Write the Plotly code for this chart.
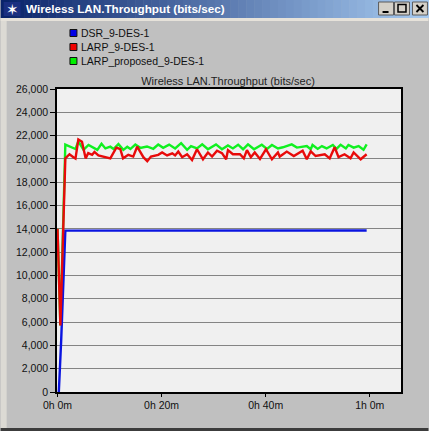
import plotly.graph_objects as go

# Values (time in minutes, throughput in bits/sec)
dsr_t = [0.25, 0.7, 1.5, 20.0, 43.0, 45.0, 59.4]
dsr_v = [0, 4400, 13850, 13850, 13850, 13880, 13860]

larp_t = [0, 0.55, 1.5, 2.3, 3.05, 3.45, 4.0, 4.7, 5.4, 5.9, 6.65, 7.1, 7.85, 9.2, 10.15,
          11.3, 12.05, 12.6, 13.6, 14.55, 15.3, 16.5, 17.25, 17.95, 19.35, 20.1, 21.05,
          22.05, 22.6, 23.2, 23.95, 24.9, 25.85, 26.8, 27.95, 28.9, 29.7, 30.65, 31.6,
          32.4, 32.75, 33.7, 35.05, 35.8, 36.4, 37.15, 37.9, 38.9, 40.05, 41.2, 42.35,
          42.7, 44.05, 45.4, 47.1, 47.9, 48.65, 49.6, 51.35, 52.3, 53.25, 54.0, 55.15,
          56.3, 56.9, 58.25, 59.4]
larp_v = [14000, 5700, 20050, 20400, 20150, 20030, 21670, 21480, 20050, 20500, 20350, 20600, 20300, 20150, 20050,
          20970, 20850, 20050, 20350, 20200, 21050, 20150, 19800, 20200, 20350, 20550, 20300,
          20480, 20300, 20630, 20150, 20400, 19900, 20830, 19970, 20550, 20200, 20700, 20500,
          19970, 20750, 20400, 20400, 20050, 20750, 20150, 20550, 20000, 20830, 19970, 20550,
          20200, 20630, 20250, 20700, 19970, 20650, 20250, 20400, 20050, 21000, 20150, 20400,
          20050, 20550, 19970, 20400]

proposed_t = [0, 0.55, 1.5, 2.5, 3.45, 4.0, 5.0, 5.95, 6.9, 7.65, 8.45, 9.2, 10.15, 10.75, 11.7,
              12.65, 13.4, 14.0, 14.95, 15.9, 17.2, 18.4, 19.35, 20.3, 21.45, 22.6, 23.75,
              24.9, 25.65, 26.8, 27.8, 28.9, 30.45, 31.6, 32.75, 33.7, 34.7, 35.65, 36.6,
              37.75, 39.25, 40.25, 41.2, 42.35, 43.3, 45.0, 46.0, 47.9, 48.65, 49.0, 50.0,
              50.8, 51.7, 52.9, 53.6, 54.4, 55.4, 55.9, 56.9, 57.85, 58.8, 59.4]
proposed_v = [14000, 5700, 21230, 21050, 20850, 21500, 20780, 21200, 21000, 20780, 21300, 20900, 21050, 20850, 21270,
              20780, 21050, 20850, 21230, 20950, 21070, 20870, 21230, 20950, 21230, 20900, 21350,
              20780, 21100, 20900, 21250, 20830, 21250, 20830, 21150, 20900, 21220, 20830, 21250,
              20830, 21220, 20860, 21200, 20900, 21000, 21250, 20970, 21100, 20830, 21200, 20860,
              21100, 20900, 21200, 20860, 21220, 20900, 21200, 20970, 21100, 20780, 21250]

x_tick_vals = [0, 20, 40, 60]
x_tick_text = ["0h 0m", "0h 20m", "0h 40m", "1h 0m"]
y_tick_vals = list(range(0, 26001, 2000))
legend_names = ["DSR_9-DES-1", "LARP_9-DES-1", "LARP_proposed_9-DES-1"]
legend_colors = ["#0000e6", "#f00000", "#00f000"]

W, H = 429, 431
PLOT_L, PLOT_R, PLOT_T, PLOT_B = 56.5, 401.5, 89, 392
FONT = "Liberation Sans"


# pixel position -> paper coordinates, for the window dressing
def px(x):
    return (x - PLOT_L) / (PLOT_R - PLOT_L)


def py(y):
    return (PLOT_B - y) / (PLOT_B - PLOT_T)


def rect(x0, y0, x1, y1, fill, line=None, width=1):
    return dict(type="rect", xref="paper", yref="paper",
                x0=px(x0), x1=px(x1), y0=py(y0), y1=py(y1),
                fillcolor=fill, line=dict(color=line, width=width if line else 0))


def seg(x0, y0, x1, y1, color, width=1.5):
    return dict(type="line", xref="paper", yref="paper",
                x0=px(x0), x1=px(x1), y0=py(y0), y1=py(y1),
                line=dict(color=color, width=width))


def label(x, y, text, size=10.5, color="#111111", anchor="left", bold=False):
    return dict(xref="paper", yref="paper", x=px(x), y=py(y), text=f"<b>{text}</b>" if bold else text,
                showarrow=False, xanchor=anchor, yanchor="middle",
                font=dict(family=FONT, size=size, color=color))


fig = go.Figure()
fig.add_trace(go.Scatter(x=proposed_t, y=proposed_v, mode="lines", line=dict(color="#10f020", width=2.4), name=legend_names[2]))
fig.add_trace(go.Scatter(x=dsr_t, y=dsr_v, mode="lines", line=dict(color="#0a14e0", width=2.4), name=legend_names[0]))
fig.add_trace(go.Scatter(x=larp_t, y=larp_v, mode="lines", line=dict(color="#e80a0a", width=2.4), name=legend_names[1]))

shapes = []
annotations = []

# Window chrome
shapes.append(rect(0, 18, 6, 428, "#dcdad4"))
shapes.append(rect(0, 428, W, H, "#3c3c3c"))
shapes.append(rect(0, 18, W, 21, "#e6e2da"))
c0, c1 = (10, 36, 106), (166, 202, 240)
steps = 54
for i in range(steps):
    f = i / (steps - 1)
    col = "rgb(%d,%d,%d)" % tuple(c0[k] + (c1[k] - c0[k]) * f for k in range(3))
    shapes.append(rect(W * i / steps, 0, W * (i + 1) / steps + 0.5, 18, col))
shapes.append(rect(3, 2, 20, 16, "#1a2f80"))
annotations.append(label(11.5, 9.5, "✶", size=15, color="white", anchor="center"))
annotations.append(label(23, 9, "Wireless LAN.Throughput (bits/sec)", size=11.7, color="white", bold=True))
for x0 in [379, 395, 413]:
    shapes.append(rect(x0, 2, x0 + 15, 15, "#d4d0c8", "#5a5a5a", 1))
shapes.append(seg(383, 12, 389, 12, "black", 2))
shapes.append(rect(398.5, 4.5, 406.5, 12, "rgba(0,0,0,0)", "black", 1.5))
shapes.append(seg(417, 5, 424, 12, "black", 1.8))
shapes.append(seg(424, 5, 417, 12, "black", 1.8))

# Legend
for i, name in enumerate(legend_names):
    y = 33 + 14 * i
    shapes.append(rect(69.5, y - 3.5, 76.5, y + 3.5, legend_colors[i], "#101010", 1))
    annotations.append(label(78.5, y, name, size=10.5))

fig.update_layout(
    width=W,
    height=H,
    margin=dict(l=PLOT_L, r=W - PLOT_R, t=PLOT_T, b=H - PLOT_B, pad=0),
    paper_bgcolor="#c0c0c0",
    plot_bgcolor="#f0f0f0",
    showlegend=False,
    font=dict(family=FONT, size=10.5, color="#111111"),
    title=dict(text="Wireless LAN.Throughput (bits/sec)", x=228 / W, y=1 - 81 / H,
               xanchor="center", yanchor="middle", font=dict(family=FONT, size=11, color="#222222")),
    shapes=shapes,
    annotations=annotations,
)
fig.update_xaxes(range=[-0.1, 66], tickmode="array", tickvals=x_tick_vals, ticktext=x_tick_text,
                 showgrid=False, zeroline=False, showline=True, mirror=True, linecolor="black", linewidth=1.5,
                 ticks="outside", ticklen=3, tickcolor="black", tickwidth=1)
fig.update_yaxes(range=[0, 26000], tickmode="array", tickvals=y_tick_vals, tickformat=",",
                 showgrid=True, gridcolor="#848484", gridwidth=1.2, zeroline=False,
                 showline=True, mirror=True, linecolor="black", linewidth=1.5,
                 ticks="outside", ticklen=5, tickcolor="black", tickwidth=1)

# the page's default body margin would push the figure off the window
fig.write_html("out.html", config=dict(displayModeBar=False),
               post_script="document.body.style.margin='0';document.documentElement.style.overflow='hidden';")
